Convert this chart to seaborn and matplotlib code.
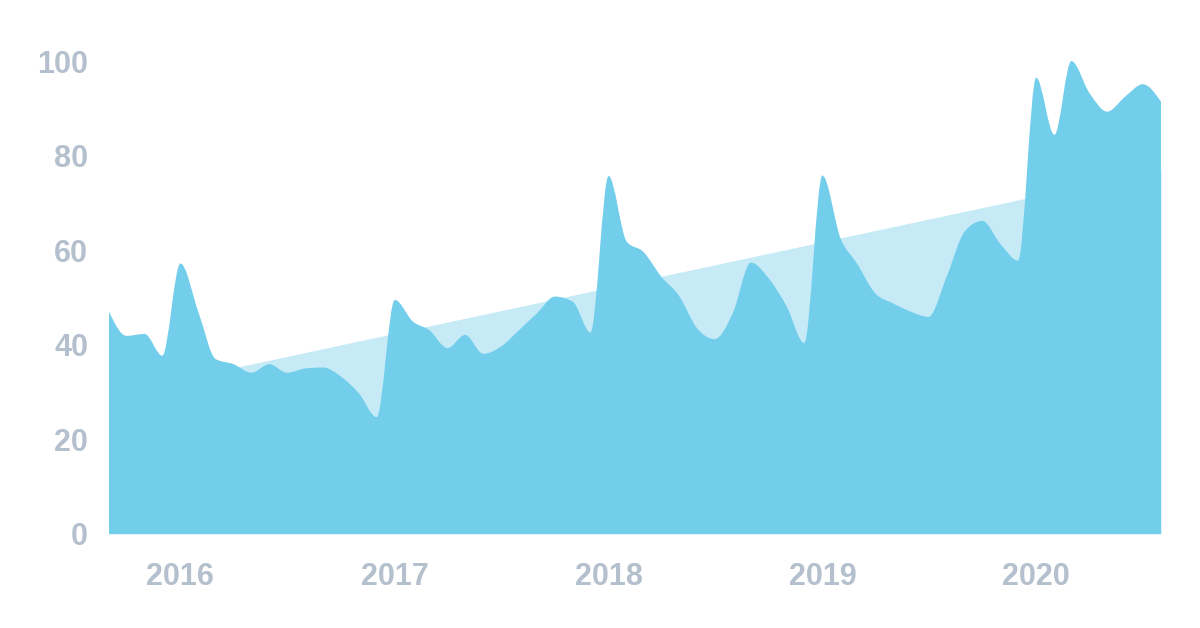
import numpy as np
import pandas as pd
import seaborn as sns
import matplotlib
matplotlib.use("Agg")
import matplotlib.pyplot as plt
import matplotlib.dates as mdates
from matplotlib.path import Path
from matplotlib.patches import PathPatch

# ---------------------------------------------------------
# Data (monthly)
# ---------------------------------------------------------
start_month = "2015-09-01"
interest = [
    47.0, 41.9, 42.3, 37.7,                                           # 2015
    57.2, 46.8, 37.0, 35.9, 34.1, 35.9, 34.1, 35.0, 35.2, 33.3, 29.7, 24.7,  # 2016
    49.5, 44.9, 43.1, 39.3, 42.1, 38.1, 39.6, 43.1, 46.7, 50.2, 49.1, 42.6,  # 2017
    75.7, 61.8, 59.7, 54.4, 50.4, 43.5, 41.2, 46.7, 57.4, 54.1, 48.1, 40.4,  # 2018
    75.8, 62.5, 57.2, 50.9, 48.8, 47.0, 45.9, 54.4, 64.0, 66.2, 61.3, 57.8,  # 2019
    96.5, 84.4, 100.0, 93.2, 89.3, 92.5, 95.1, 91.4,                  # 2020
]
trend_values = [29.5, 77.1]   # trend at first and last month
year_ticks = ["2016", "2017", "2018", "2019", "2020"]
y_ticks = [0, 20, 40, 60, 80, 100]

months = pd.date_range(start_month, periods=len(interest), freq="MS")
x = mdates.date2num(months.to_pydatetime())
y = np.array(interest)

AREA = "#72ceeb"
LABEL = "#b4c0cd"

sns.set_style("white")
plt.rcParams["font.family"] = ["Liberation Sans", "DejaVu Sans"]


def monotone_area(xs, ys):
    """Area path through the points with a monotone cubic curve (like d3 curveMonotoneX)."""
    h = np.diff(xs)
    s = np.diff(ys) / h
    t = np.zeros(len(xs))
    for i in range(1, len(xs) - 1):
        p = (s[i - 1] * h[i] + s[i] * h[i - 1]) / (h[i - 1] + h[i])
        t[i] = (np.sign(s[i - 1]) + np.sign(s[i])) * min(abs(s[i - 1]), abs(s[i]), 0.5 * abs(p))
    t[0] = (3 * s[0] - t[1]) / 2
    t[-1] = (3 * s[-1] - t[-2]) / 2

    verts = [(xs[0], 0), (xs[0], ys[0])]
    codes = [Path.MOVETO, Path.LINETO]
    for i in range(len(xs) - 1):
        dx = h[i] / 3
        verts += [(xs[i] + dx, ys[i] + dx * t[i]),
                  (xs[i + 1] - dx, ys[i + 1] - dx * t[i + 1]),
                  (xs[i + 1], ys[i + 1])]
        codes += [Path.CURVE4] * 3
    verts += [(xs[-1], 0), (xs[-1], 0)]
    codes += [Path.LINETO, Path.CLOSEPOLY]
    return Path(verts, codes)


fig = plt.figure(figsize=(12, 6.28), dpi=100)
ax = fig.add_axes([0.0908, 0.1497, 0.8767, 0.7907])

# trend band (light)
ax.fill_between([x[0], x[-1]], 0, trend_values, color=AREA, alpha=0.4, linewidth=0)

# main area
ax.add_patch(PathPatch(monotone_area(x, y), facecolor=AREA, edgecolor="none"))

ax.set_xlim(x[0], x[-1])
ax.set_ylim(0, 105)

tick_pos = mdates.date2num([pd.Timestamp(f"{yr}-01-01") for yr in year_ticks])
ax.set_xticks(tick_pos)
ax.set_xticklabels(year_ticks)
ax.set_yticks(y_ticks)
ax.set_yticklabels([str(v) for v in y_ticks])

ax.tick_params(axis="both", length=0, labelsize=22, labelcolor=LABEL)
ax.tick_params(axis="y", pad=15)
ax.tick_params(axis="x", pad=20)
for lbl in ax.get_xticklabels() + ax.get_yticklabels():
    lbl.set_fontweight("bold")

for spine in ax.spines.values():
    spine.set_visible(False)
ax.grid(False)

fig.savefig("out.png", dpi=100, facecolor="white")
